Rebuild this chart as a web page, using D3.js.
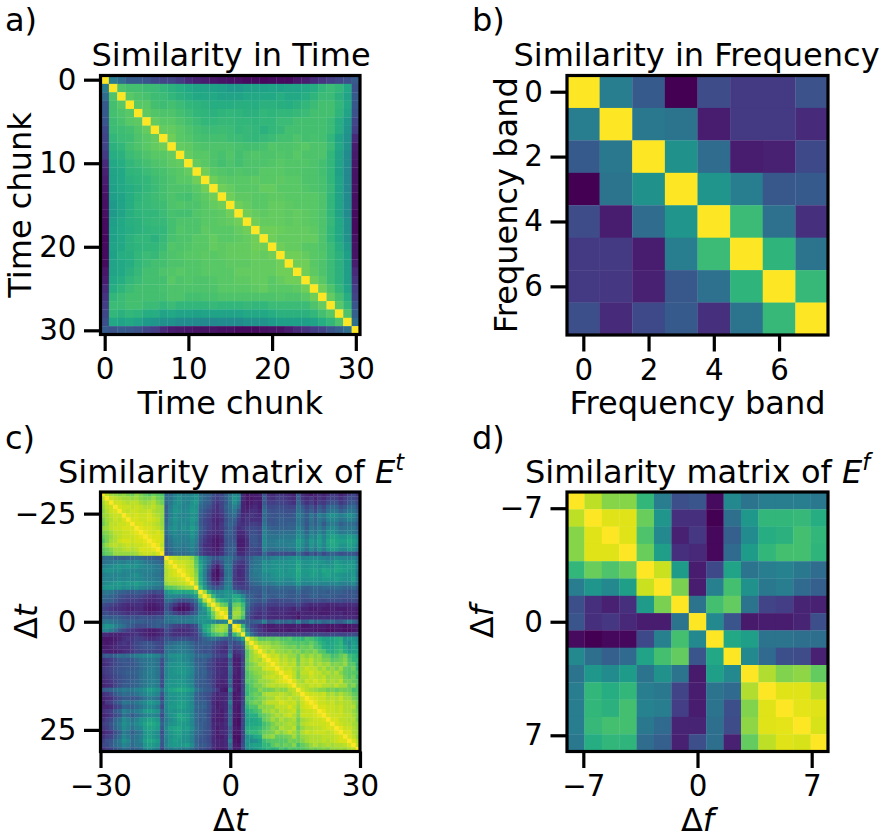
<!DOCTYPE html>
<html>
<head>
<meta charset="utf-8">
<title>Similarity matrices</title>
<script src="https://d3js.org/d3.v7.min.js"></script>
<style>
    body { margin: 0; background: #fff; }
    text { font-family: "DejaVu Sans", sans-serif; fill: #000; }
</style>
</head>
<body>
<script>
// all matrices are in percent of the colour range (0 = dark purple, 100 = yellow)
// sim_time and sim_et are symmetric, so only the upper triangle is kept
var sim_time = [
    [100,42,35,28,28,26,22,20,20,17,12,9,8,6,5,4,4,3,3,2,3,3,3,6,8,12,15,18,21,24,28],
    [100,72,70,70,69,68,66,64,62,60,58,58,57,56,54,54,56,57,57,58,57,58,58,60,62,66,68,66,60,25],
    [100,74,72,71,69,68,66,64,62,60,60,60,58,58,58,60,60,60,60,62,60,60,62,65,68,68,64,58,28],
    [100,74,74,70,69,70,68,66,65,64,62,62,62,63,63,62,64,64,63,62,64,66,68,70,70,66,60,27],
    [100,75,73,72,72,70,68,66,65,64,65,66,65,64,64,66,65,66,66,67,68,70,70,70,65,58,25],
    [100,76,74,74,72,70,68,66,66,67,67,66,66,65,66,66,68,68,70,70,70,70,68,62,54,21],
    [100,76,76,74,72,70,69,68,69,68,66,67,66,64,66,67,70,70,70,70,70,68,62,52,18],
    [100,78,74,73,71,70,70,70,69,68,67,66,67,68,70,70,72,70,71,70,66,58,50,12],
    [100,76,75,73,72,72,72,72,71,70,70,71,73,72,72,73,74,72,72,68,60,50,8],
    [100,76,74,74,72,71,73,70,72,73,72,72,73,72,74,72,72,72,66,58,48,7],
    [100,76,74,72,70,72,70,72,72,72,73,74,73,73,73,72,70,66,58,48,6],
    [100,78,74,73,72,73,72,72,74,74,74,73,73,72,72,70,66,57,47,5],
    [100,78,75,74,74,74,75,74,74,75,74,74,72,72,71,66,58,47,5],
    [100,78,76,74,74,74,76,76,74,74,74,73,72,71,67,58,47,5],
    [100,78,75,75,74,74,75,75,74,74,74,74,72,66,58,48,4],
    [100,78,76,74,74,76,76,75,74,74,74,72,66,58,48,4],
    [100,78,76,75,76,76,75,76,75,74,72,66,58,48,3],
    [100,78,76,76,76,75,76,75,74,72,67,60,50,3],
    [100,78,78,77,76,76,76,75,72,66,60,50,3],
    [100,78,76,76,76,76,76,72,66,60,50,4],
    [100,78,76,76,74,74,72,68,62,54,5],
    [100,78,78,76,74,73,68,64,56,5],
    [100,78,78,74,72,68,64,56,8],
    [100,78,75,72,68,64,56,12],
    [100,78,74,68,64,56,15],
    [100,78,72,66,58,18],
    [100,76,70,62,20],
    [100,74,66,26],
    [100,72,30],
    [100,36],
    [100]
];

var sim_freq = [
    [100,42,28,0,23,17,17,25],
    [42,100,40,38,8,17,17,12],
    [28,40,100,50,35,8,9,22],
    [0,38,50,100,52,42,27,28],
    [23,8,35,52,100,68,37,14],
    [17,17,8,42,68,100,65,38],
    [17,16,9,27,37,65,100,67],
    [24,12,22,28,14,38,67,100]
];

var sim_et = [
    [100,90,86,84,82,84,80,78,84,80,76,72,78,74,72,34,36,44,48,42,44,46,50,38,34,32,24,20,22,30,38,48,44,12,6,8,8,10,26,14,12,16,16,14,12,10,28,14,10,8,10,14,10,14,18,16,10,14,18,22,14],
    [100,92,90,88,86,86,84,86,82,80,80,84,78,76,36,38,46,50,44,46,48,52,40,34,30,22,18,24,30,40,52,46,12,6,6,8,8,30,16,14,18,18,16,14,12,30,16,12,16,10,16,12,18,20,18,14,18,24,22,18],
    [100,92,92,90,88,90,90,86,84,86,88,82,78,34,40,48,50,46,44,50,54,38,32,30,20,16,20,28,38,50,40,10,6,8,10,8,28,18,18,20,20,18,16,14,32,20,14,18,12,18,16,22,26,24,16,20,26,28,20],
    [100,94,92,92,90,92,90,88,88,90,86,84,30,42,50,48,44,46,52,50,34,30,26,18,14,20,30,36,44,34,10,8,10,12,8,32,22,22,24,24,22,20,20,36,28,20,26,18,28,22,32,34,32,24,28,34,34,26],
    [100,92,90,92,92,90,90,92,88,86,84,32,44,52,50,46,48,54,52,32,26,22,16,14,18,28,34,40,26,10,10,14,14,10,36,26,24,26,26,24,24,24,38,32,24,30,22,32,26,36,40,38,30,34,40,38,30],
    [100,94,92,94,92,92,94,90,88,84,30,42,50,46,44,46,50,48,30,24,20,14,12,16,26,32,36,22,12,14,16,14,12,34,28,26,26,28,26,26,28,42,36,28,40,32,44,38,48,50,48,42,46,50,46,36],
    [100,94,94,92,92,94,92,90,84,32,46,52,48,46,48,54,50,28,22,18,12,10,14,24,30,30,18,12,16,14,14,14,36,26,26,28,30,28,28,28,40,34,28,38,30,40,34,44,46,44,38,40,46,42,34],
    [100,94,94,92,92,90,88,84,34,44,50,46,48,46,52,46,28,22,18,14,10,16,26,32,28,16,14,16,18,18,16,38,28,26,28,30,28,30,30,40,34,26,36,30,38,28,38,42,38,30,34,36,34,28],
    [100,96,94,94,92,90,86,36,48,52,46,50,48,56,50,30,24,18,14,12,16,24,30,24,14,16,20,22,22,20,42,32,30,30,32,30,32,32,44,38,28,40,34,42,34,44,48,44,36,38,40,40,32],
    [100,96,94,92,94,90,34,44,48,44,46,46,52,46,28,22,16,14,12,14,26,30,24,12,12,18,24,24,20,44,36,34,34,36,36,36,36,46,42,32,44,38,46,38,50,52,46,40,42,44,40,34],
    [100,96,94,94,92,32,40,46,44,42,44,50,44,26,18,14,10,8,12,26,28,24,10,10,16,26,26,22,46,38,38,38,40,40,40,40,50,46,38,48,44,54,44,54,58,56,52,52,56,52,46],
    [100,96,94,92,30,38,44,44,42,42,48,42,24,16,12,8,6,10,24,28,26,8,8,14,26,26,22,48,40,40,42,44,42,42,44,56,50,42,54,48,56,46,58,62,58,56,56,60,56,50],
    [100,96,90,30,36,42,42,40,42,46,40,22,14,12,8,6,12,24,28,28,8,8,14,24,26,22,46,40,40,42,42,42,44,44,54,48,40,52,46,54,46,56,60,58,52,52,58,54,46],
    [100,94,28,34,40,40,38,40,44,38,24,16,14,10,8,14,26,30,30,10,10,16,22,22,20,44,36,36,38,38,38,40,40,50,44,36,48,40,50,42,52,56,54,48,48,54,50,42],
    [100,26,30,36,36,34,36,40,34,22,16,14,12,10,14,24,30,26,12,12,18,20,20,18,34,24,22,24,24,22,24,22,36,26,20,28,22,30,22,28,32,28,24,26,28,26,20],
    [100,92,90,88,88,88,84,72,52,44,36,28,26,32,38,38,30,24,20,26,32,38,38,42,40,44,46,46,46,48,50,52,46,46,48,48,46,44,42,44,48,46,46,44,46,38],
    [100,94,92,92,90,88,74,56,46,36,22,18,26,38,38,24,18,16,24,34,38,40,50,46,50,50,50,50,52,52,58,52,50,52,54,52,50,48,50,56,52,50,52,52,40],
    [100,94,94,90,88,76,60,46,30,16,8,20,40,40,20,14,14,22,36,40,40,50,48,50,52,52,50,52,52,60,52,50,54,54,50,54,52,52,58,56,54,56,54,44],
    [100,96,92,90,80,60,44,26,10,4,16,38,40,18,12,14,24,38,42,42,52,50,52,54,54,50,54,54,62,54,54,56,58,54,60,58,56,60,58,56,54,54,42],
    [100,94,90,82,58,42,24,8,4,14,36,40,18,12,14,24,38,40,42,48,46,50,52,54,52,52,54,60,54,52,56,56,52,56,58,54,54,52,50,50,54,40],
    [100,94,84,60,44,26,10,6,18,38,42,16,14,14,24,36,38,40,46,46,48,50,50,48,48,50,58,50,50,52,52,50,54,54,52,56,52,50,50,56,42],
    [100,86,62,48,30,18,14,24,40,42,20,16,16,22,32,34,36,42,40,42,46,46,44,44,46,54,46,46,46,48,46,46,46,46,48,44,44,44,48,36],
    [100,70,54,38,28,26,30,44,44,24,20,18,20,26,28,28,34,30,32,34,34,32,32,32,40,32,30,32,34,32,34,34,34,36,34,32,32,34,28],
    [100,86,64,50,44,48,52,50,44,36,30,26,28,28,26,34,28,30,30,30,30,28,28,34,28,28,30,32,30,30,28,30,30,30,28,26,28,24],
    [100,88,66,52,48,52,52,60,58,46,32,30,26,24,34,30,28,30,32,30,28,28,30,26,26,30,32,28,30,30,28,28,26,26,26,28,24],
    [100,88,68,62,58,50,64,66,56,36,30,28,26,32,24,22,22,24,24,24,26,28,24,22,24,24,24,22,24,24,24,24,22,22,24,20],
    [100,88,78,74,48,76,78,68,38,26,22,20,24,18,18,18,20,18,18,18,22,16,14,12,14,12,12,10,12,12,14,12,12,14,12],
    [100,92,90,42,82,84,72,34,22,18,16,20,14,12,14,14,14,12,10,16,10,10,8,8,10,8,8,10,8,8,8,10,10,8],
    [100,94,44,86,86,76,30,20,16,14,18,14,12,12,14,12,10,10,8,12,10,10,10,8,8,8,10,10,12,8,10,10,8],
    [100,48,84,82,70,28,18,14,14,18,12,12,12,12,12,12,10,6,12,12,12,12,12,14,12,14,12,14,12,12,12,10],
    [100,42,36,32,30,28,30,32,44,28,30,36,34,32,36,30,46,30,32,42,34,38,32,34,36,30,30,34,42,34,28],
    [100,94,66,34,22,18,14,10,8,8,10,10,8,8,8,10,6,6,8,8,8,8,6,6,8,6,4,6,8,8],
    [100,78,42,26,20,16,12,8,8,8,8,8,6,8,6,8,8,8,6,6,6,4,4,6,6,4,4,6,8],
    [100,58,36,26,20,18,18,20,20,18,18,20,18,20,18,18,20,22,22,20,20,22,22,20,20,22,24,22],
    [100,88,82,74,74,76,74,76,72,72,74,68,68,66,72,70,66,62,58,58,58,62,64,50,54,52,48],
    [100,90,84,84,84,80,82,78,76,74,74,72,74,72,76,72,66,62,58,60,62,66,54,48,56,50],
    [100,92,88,88,84,84,82,80,78,80,74,78,76,80,72,70,62,60,60,64,66,60,50,58,54],
    [100,92,86,90,84,84,82,84,80,82,76,80,78,82,74,72,64,62,66,70,62,56,58,58],
    [100,94,90,92,86,88,84,84,78,86,82,86,82,84,76,76,70,72,76,80,68,66,62],
    [100,94,94,88,90,86,88,78,88,86,90,84,84,80,80,74,76,78,82,72,66,66],
    [100,94,90,92,88,90,80,88,86,90,84,88,84,86,80,82,80,84,74,74,64],
    [100,94,90,92,88,84,88,92,90,90,84,88,82,84,80,86,76,74,78,66],
    [100,94,94,90,82,90,90,94,90,90,86,88,84,88,82,76,74,74,72],
    [100,96,90,82,88,88,92,90,88,90,84,86,86,86,78,74,78,68],
    [100,94,88,86,92,90,94,90,92,86,88,86,90,80,80,76,74],
    [100,90,90,88,92,90,92,88,88,86,90,86,86,78,82,72],
    [100,92,88,86,84,82,82,78,80,76,80,78,78,70,72],
    [100,94,92,92,90,92,86,88,84,88,84,82,76,74],
    [100,96,94,92,92,88,90,88,92,86,86,80,76],
    [100,96,92,92,90,92,88,90,88,88,84,80],
    [100,94,94,92,92,90,92,88,88,88,78],
    [100,96,92,92,90,92,88,88,84,80],
    [100,94,92,92,92,90,90,86,82],
    [100,94,94,90,90,88,88,80],
    [100,94,92,90,90,86,84],
    [100,96,92,92,88,84],
    [100,94,94,88,86],
    [100,94,90,84],
    [100,94,88],
    [100,90],
    [100]
];

var sim_ef = [
    [100,90,82,82,66,42,24,26,3,47,38,42,42,42,40],
    [90,100,95,95,77,52,14,14,0,36,53,66,66,67,62],
    [82,95,100,95,72,47,9,16,2,30,48,62,64,70,66],
    [82,95,95,100,77,56,14,11,2,34,55,66,70,70,65],
    [66,77,72,77,100,92,55,8,22,58,38,42,44,40,35],
    [42,52,47,56,92,100,80,8,43,70,50,40,42,34,30],
    [24,14,9,14,55,80,100,38,70,76,38,20,18,10,9],
    [26,14,16,11,8,8,38,100,47,26,7,8,8,10,24],
    [3,0,2,2,22,43,70,47,100,60,56,38,38,36,36],
    [47,36,30,34,58,70,76,26,60,100,47,34,24,23,9],
    [38,53,48,55,38,50,38,7,56,47,100,88,81,83,76],
    [42,66,62,66,42,40,20,8,38,34,88,100,95,95,90],
    [42,66,64,70,44,42,18,8,38,24,81,95,100,96,95],
    [42,67,70,70,40,34,10,10,36,23,83,95,96,100,94],
    [40,62,66,65,35,30,9,24,36,9,76,90,95,94,100]
];

var ticks_time = [0, 10, 20, 30];
var ticks_freq = [0, 2, 4, 6];
var ticks_et_x = [-30, 0, 30];
var ticks_et_y = [-25, 0, 25];
var ticks_ef = [-7, 0, 7];

var width = 886;
var height = 835;
var font_size = 32;
var tick_font_size = 29.3;

var svg = d3.select('body').append('svg')
    .attr('width', width)
    .attr('height', height);

// rebuild the full square from an upper triangle
function mirror(rows) {
    var n = rows.length;
    var full = d3.range(n).map(function () { return []; });
    rows.forEach(function (row, i) {
        if (row.length !== n - i) {
            throw new Error('row ' + i + ' has ' + row.length + ' values');
        }
        row.forEach(function (v, k) {
            full[i][i + k] = v;
            full[i + k][i] = v;
        });
    });
    return full;
}

function add_math(sel, parts) {
    parts.forEach(function (p) {
        var span = sel.append('tspan').text(p.t);
        if (p.italic) span.style('font-style', 'italic');
        if (p.sup) span.attr('dy', -12.5).style('font-size', '22.4px');
    });
}

function draw_panel(o) {
    var w = o.right - o.left;
    var h = o.bottom - o.top;
    var n = o.data.length;
    var g = svg.append('g').attr('transform', 'translate(' + o.left + ',' + o.top + ')');

    var cell_x = d3.scaleBand().domain(d3.range(n)).range([0, w]);
    var cell_y = d3.scaleBand().domain(d3.range(n)).range([0, h]);
    var color = d3.scaleSequential(d3.interpolateViridis).domain([0, 100]);

    g.selectAll('g.row')
        .data(o.data)
        .enter()
        .append('g')
        .attr('class', 'row')
        .attr('transform', function (d, i) { return 'translate(0,' + cell_y(i) + ')'; })
        .selectAll('rect')
        .data(function (d) { return d; })
        .enter()
        .append('rect')
        .attr('x', function (d, i) { return cell_x(i); })
        .attr('width', cell_x.bandwidth() + 0.3)
        .attr('height', cell_y.bandwidth() + 0.3)
        .attr('fill', function (d) { return color(d); });

    var x = d3.scaleLinear().domain(o.x_domain).range([0, w]);
    var y = d3.scaleLinear().domain(o.y_domain).range([0, h]);

    var x_axis = g.append('g')
        .attr('transform', 'translate(0,' + h + ')')
        .call(d3.axisBottom(x).tickValues(o.x_ticks).tickSize(16.5).tickPadding(7.5).tickFormat(d3.format('d')));
    var y_axis = g.append('g')
        .call(d3.axisLeft(y).tickValues(o.y_ticks).tickSize(16.5).tickPadding(7.5).tickFormat(d3.format('d')));

    [x_axis, y_axis].forEach(function (a) {
        a.select('.domain').remove();
        a.selectAll('line').attr('stroke', '#000').attr('stroke-width', 3.2);
        a.selectAll('text').style('font-size', tick_font_size + 'px').style('font-family', '"DejaVu Sans"');
    });

    g.append('rect')
        .attr('width', w)
        .attr('height', h)
        .attr('fill', 'none')
        .attr('stroke', '#000')
        .attr('stroke-width', 3.2);

    var title = svg.append('text')
        .attr('x', o.title_x)
        .attr('y', o.top - 9.5)
        .attr('text-anchor', 'middle')
        .style('font-size', font_size + 'px');
    add_math(title, o.title);

    var x_label = svg.append('text')
        .attr('x', (o.left + o.right) / 2)
        .attr('y', o.x_label_y)
        .attr('text-anchor', 'middle')
        .style('font-size', font_size + 'px');
    add_math(x_label, o.x_label);

    var y_label = svg.append('text')
        .attr('transform', 'translate(' + o.y_label_x + ',' + (o.top + o.bottom) / 2 + ') rotate(-90)')
        .attr('text-anchor', 'middle')
        .style('font-size', font_size + 'px');
    add_math(y_label, o.y_label);

    svg.append('text')
        .attr('x', o.tag_x)
        .attr('y', o.tag_y)
        .style('font-size', font_size + 'px')
        .text(o.tag);
}

draw_panel({
    data: mirror(sim_time), tag: 'a)', tag_x: 5, tag_y: 30.5,
    left: 100.5, right: 360, top: 75.5, bottom: 334.5, title_x: 231,
    x_domain: [-0.5, 30.5], y_domain: [-0.5, 30.5], x_ticks: ticks_time, y_ticks: ticks_time,
    title: [{t: 'Similarity in Time'}], x_label: [{t: 'Time chunk'}], y_label: [{t: 'Time chunk'}],
    x_label_y: 414, y_label_x: 31
});

draw_panel({
    data: sim_freq, tag: 'b)', tag_x: 472, tag_y: 30.5,
    left: 567, right: 828, top: 75.5, bottom: 335, title_x: 696.5,
    x_domain: [-0.5, 7.5], y_domain: [-0.5, 7.5], x_ticks: ticks_freq, y_ticks: ticks_freq,
    title: [{t: 'Similarity in Frequency'}], x_label: [{t: 'Frequency band'}], y_label: [{t: 'Frequency band'}],
    x_label_y: 414, y_label_x: 517
});

draw_panel({
    data: mirror(sim_et), tag: 'c)', tag_x: 5, tag_y: 448.5,
    left: 100.5, right: 360, top: 492, bottom: 751.5, title_x: 231,
    x_domain: [-30, 30], y_domain: [-30, 30], x_ticks: ticks_et_x, y_ticks: ticks_et_y,
    title: [{t: 'Similarity matrix of '}, {t: 'E', italic: true}, {t: 't', italic: true, sup: true}],
    x_label: [{t: 'Δ'}, {t: 't', italic: true}], y_label: [{t: 'Δ'}, {t: 't', italic: true}],
    x_label_y: 831, y_label_x: 37
});

draw_panel({
    data: sim_ef, tag: 'd)', tag_x: 472, tag_y: 448.5,
    left: 567, right: 828, top: 492, bottom: 751.5, title_x: 697.5,
    x_domain: [-8, 8], y_domain: [-8, 8], x_ticks: ticks_ef, y_ticks: ticks_ef,
    title: [{t: 'Similarity matrix of '}, {t: 'E', italic: true}, {t: 'f', italic: true, sup: true}],
    x_label: [{t: 'Δ'}, {t: 'f', italic: true}], y_label: [{t: 'Δ'}, {t: 'f', italic: true}],
    x_label_y: 831, y_label_x: 493
});
</script>
</body>
</html>
